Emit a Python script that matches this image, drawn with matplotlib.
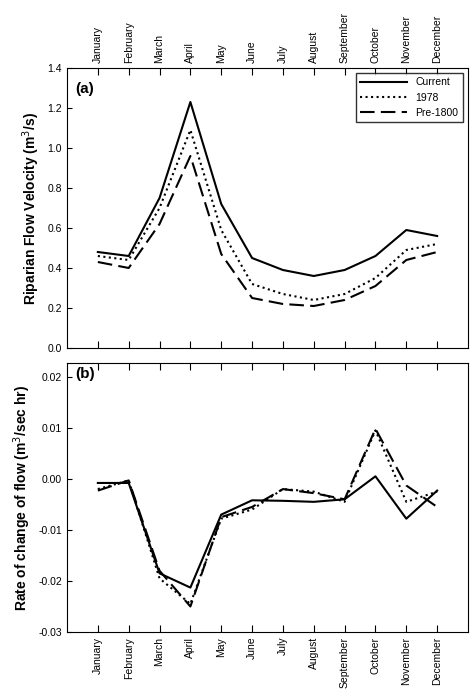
import matplotlib
matplotlib.use("Agg")
import matplotlib.pyplot as plt

months = ["January","February","March","April","May","June","July","August","September","October","November","December"]
vel_current = [0.48,0.46,0.75,1.23,0.72,0.45,0.39,0.36,0.39,0.46,0.59,0.56]
vel_1978 = [0.46,0.44,0.70,1.09,0.59,0.32,0.27,0.24,0.27,0.35,0.49,0.52]
vel_pre1800 = [0.43,0.40,0.62,0.96,0.47,0.25,0.22,0.21,0.24,0.31,0.44,0.48]
rate_current = [-0.0008,-0.0008,-0.0185,-0.0213,-0.0070,-0.0042,-0.0043,-0.0045,-0.0040,0.0005,-0.0078,-0.0023]
rate_1978 = [-0.0020,-0.0003,-0.0195,-0.0245,-0.0078,-0.0060,-0.0020,-0.0025,-0.0045,0.0095,-0.0045,-0.0025]
rate_pre1800 = [-0.0023,-0.0003,-0.0180,-0.0250,-0.0075,-0.0055,-0.0020,-0.0028,-0.0040,0.0098,-0.0013,-0.0055]

plt.rcParams['font.family'] = ['Liberation Sans', 'DejaVu Sans']
fig = plt.figure(figsize=(4.74, 6.97), dpi=100)
ax1 = fig.add_axes([67/474, 1-348/697, 401/474, 280/697])
ax2 = fig.add_axes([67/474, 1-632/697, 401/474, 269/697])
x = list(range(len(months)))
styles = dict(color='black', lw=1.5)
ax1.plot(x, vel_current, '-', label='Current', **styles)
ax1.plot(x, vel_1978, ':', label='1978', **styles)
ax1.plot(x, vel_pre1800, '--', dashes=(7, 3), label='Pre-1800', **styles)
ax2.plot(x, rate_current, '-', **styles)
ax2.plot(x, rate_1978, ':', **styles)
ax2.plot(x, rate_pre1800, '--', dashes=(7, 3), **styles)

for ax in (ax1, ax2):
    ax.set_xlim(-1, 12)
    ax.set_xticks(x)
    ax.tick_params(direction='in', labelsize=7.5, top=True, right=False)
    ax.tick_params(axis='x', length=5)
ax1.tick_params(axis='x', labeltop=True, labelbottom=False)
ax1.set_xticklabels(months, rotation=90)
ax2.set_xticklabels(months, rotation=90)
ax1.set_ylim(0, 1.4)
ax1.set_yticks([0.0,0.2,0.4,0.6,0.8,1.0,1.2,1.4])
ax1.set_yticklabels(['0.0','0.2','0.4','0.6','0.8','1.0','1.2','1.4'])
ax2.set_ylim(-0.03, 0.0227)
ax2.set_yticks([-0.03,-0.02,-0.01,0.0,0.01,0.02])
ax2.set_yticklabels(['-0.03','-0.02','-0.01','0.00','0.01','0.02'])
ax1.set_ylabel('Riparian Flow Velocity (m$^3$/s)', fontsize=10, fontweight='bold')
ax2.set_ylabel('Rate of change of flow (m$^3$/sec hr)', fontsize=10, fontweight='bold')
ax1.text(0.02, 0.95, '(a)', transform=ax1.transAxes, fontsize=11, fontweight='bold', va='top')
ax2.text(0.02, 0.985, '(b)', transform=ax2.transAxes, fontsize=11, fontweight='bold', va='top')
leg = ax1.legend(loc='upper right', fontsize=7.5, fancybox=False, edgecolor='black', handlelength=4.5)
leg.get_frame().set_linewidth(1.0)
fig.savefig('out.png', dpi=100)
